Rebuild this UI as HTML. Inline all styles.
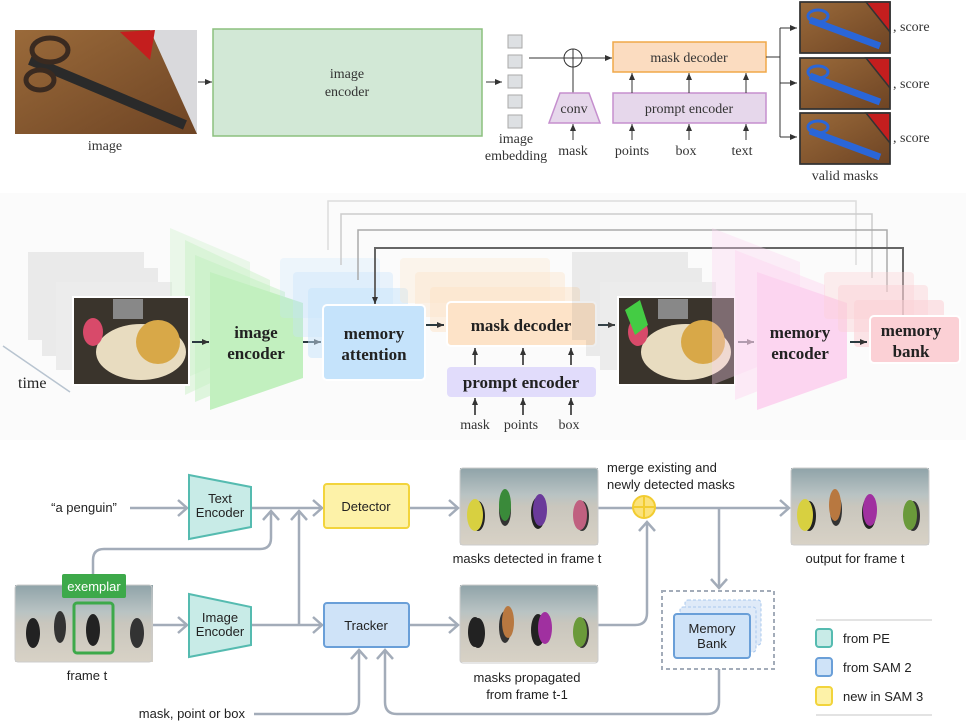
<!DOCTYPE html>
<html><head><meta charset="utf-8"><style>
html,body{margin:0;padding:0;background:#fff;}
svg{display:block}
.s{font-family:"Liberation Serif",serif;font-size:14px;fill:#333}
.b{font-family:"Liberation Serif",serif;font-size:17px;font-weight:bold;fill:#222}
.n{font-family:"Liberation Sans",sans-serif;font-size:13px;fill:#222}
</style></head><body>
<svg width="966" height="726" viewBox="0 0 966 726" xmlns="http://www.w3.org/2000/svg">
<defs>
<marker id="a" markerWidth="8" markerHeight="8" refX="7" refY="4" orient="auto" markerUnits="userSpaceOnUse"><path d="M0,1 L7,4 L0,7 z" fill="#333"/></marker>
<marker id="c" markerWidth="14" markerHeight="20" refX="11" refY="10" orient="auto" markerUnits="userSpaceOnUse"><path d="M2,2 L11,10 L2,18" fill="none" stroke="#a3acb9" stroke-width="2.5"/></marker>
<linearGradient id="wood" x1="0" y1="0" x2="1" y2="1"><stop offset="0" stop-color="#9a6a3a"/><stop offset="1" stop-color="#6e4424"/></linearGradient>
<linearGradient id="beach" x1="0" y1="0" x2="0" y2="1"><stop offset="0" stop-color="#8fa3a8"/><stop offset="0.35" stop-color="#b9c3c3"/><stop offset="0.5" stop-color="#c9c6bd"/><stop offset="1" stop-color="#d8d2c6"/></linearGradient>
<g id="sc"><rect width="90" height="51" fill="url(#wood)"/><path d="M66,0 L90,0 L90,30 Z" fill="#c41e1e"/><path d="M10,18 L80,44" stroke="#2a66d8" stroke-width="7"/><ellipse cx="18" cy="14" rx="10" ry="6" fill="none" stroke="#2a66d8" stroke-width="3"/></g>
<g id="pg"><rect width="138" height="77" fill="url(#beach)"/>
<ellipse cx="18" cy="48" rx="7" ry="15" fill="#222"/><ellipse cx="45" cy="42" rx="6" ry="16" fill="#333"/><ellipse cx="78" cy="45" rx="7" ry="16" fill="#222"/><ellipse cx="122" cy="48" rx="7" ry="15" fill="#333"/></g>
<g id="ro"><rect width="116" height="88" fill="#3a342c"/><ellipse cx="68" cy="55" rx="45" ry="28" fill="#e8dcc0"/><ellipse cx="85" cy="45" rx="22" ry="22" fill="#d8a848"/><ellipse cx="20" cy="35" rx="10" ry="14" fill="#d84a6a"/><rect x="40" y="2" width="30" height="20" fill="#888"/></g>
</defs>

<!-- PANEL 1 -->
<rect x="15" y="30" width="182" height="104" fill="url(#wood)"/>
<path d="M150,30 L197,30 L197,134 Z" fill="#d9d9dc"/><path d="M120,32 L155,30 L150,60 Z" fill="#c41e1e"/>
<path d="M30,60 L185,125" stroke="#2a2a2a" stroke-width="10"/><ellipse cx="50" cy="50" rx="18" ry="12" fill="none" stroke="#3a2a20" stroke-width="5"/><ellipse cx="40" cy="80" rx="14" ry="10" fill="none" stroke="#3a2a20" stroke-width="5"/>
<text class="s" x="105" y="150" text-anchor="middle">image</text>
<line x1="198" y1="82" x2="212" y2="82" stroke="#333" marker-end="url(#a)"/>
<rect x="213" y="29" width="269" height="107" fill="#d2e8d6" stroke="#8cc07e" stroke-width="1.5"/>
<text class="s" x="347" y="78" text-anchor="middle" fill="#555">image</text>
<text class="s" x="347" y="96" text-anchor="middle" fill="#555">encoder</text>
<line x1="486" y1="82" x2="502" y2="82" stroke="#333" marker-end="url(#a)"/>
<g fill="#dde0e3" stroke="#aaa"><rect x="508" y="35" width="14" height="13"/><rect x="508" y="55" width="14" height="13"/><rect x="508" y="75" width="14" height="13"/><rect x="508" y="95" width="14" height="13"/><rect x="508" y="115" width="14" height="13"/></g>
<text class="s" x="516" y="143" text-anchor="middle">image</text>
<text class="s" x="516" y="160" text-anchor="middle">embedding</text>
<line x1="529" y1="58" x2="612" y2="58" stroke="#333" marker-end="url(#a)"/>
<circle cx="573" cy="58" r="9" fill="#fff" stroke="#333"/><line x1="573" y1="49" x2="573" y2="67" stroke="#333"/><line x1="564" y1="58" x2="582" y2="58" stroke="#333"/>
<line x1="573" y1="93" x2="573" y2="67" stroke="#333"/>
<path d="M560,93 L589,93 L600,123 L549,123 Z" fill="#e6d7eb" stroke="#c58fce" stroke-width="1.5"/>
<text class="s" x="574" y="113" text-anchor="middle">conv</text>
<rect x="613" y="42" width="153" height="30" fill="#fbdcc0" stroke="#f0a848" stroke-width="1.5"/>
<text class="s" x="689" y="62" text-anchor="middle">mask decoder</text>
<rect x="613" y="93" width="153" height="30" fill="#e6d7eb" stroke="#c58fce" stroke-width="1.5"/>
<text class="s" x="689" y="113" text-anchor="middle">prompt encoder</text>
<g stroke="#333" marker-end="url(#a)"><line x1="573" y1="140" x2="573" y2="124"/><line x1="632" y1="140" x2="632" y2="124"/><line x1="689" y1="140" x2="689" y2="124"/><line x1="746" y1="140" x2="746" y2="124"/>
<line x1="632" y1="93" x2="632" y2="73"/><line x1="689" y1="93" x2="689" y2="73"/><line x1="746" y1="93" x2="746" y2="73"/></g>
<text class="s" x="573" y="155" text-anchor="middle">mask</text><text class="s" x="632" y="155" text-anchor="middle">points</text><text class="s" x="686" y="155" text-anchor="middle">box</text><text class="s" x="742" y="155" text-anchor="middle">text</text>
<path d="M766,57 L780,57 M780,28 L780,137" stroke="#333" fill="none"/>
<g stroke="#333" marker-end="url(#a)"><line x1="780" y1="28" x2="797" y2="28"/><line x1="780" y1="83" x2="797" y2="83"/><line x1="780" y1="137" x2="797" y2="137"/></g>
<g stroke="#333" stroke-width="1.5"><use href="#sc" x="800" y="2"/><rect x="800" y="2" width="90" height="51" fill="none"/><use href="#sc" x="800" y="58"/><rect x="800" y="58" width="90" height="51" fill="none"/><use href="#sc" x="800" y="113"/><rect x="800" y="113" width="90" height="51" fill="none"/></g>
<text class="s" x="893" y="31">, score</text><text class="s" x="893" y="88">, score</text><text class="s" x="893" y="142">, score</text>
<text class="s" x="845" y="180" text-anchor="middle">valid masks</text>

<!-- PANEL 2 -->
<rect x="0" y="193" width="966" height="247" fill="#fbfbfb"/>
<g opacity="0.12"><rect x="28" y="252" width="116" height="88" fill="#777"/><rect x="42" y="268" width="116" height="88" fill="#777"/><rect x="56" y="282" width="116" height="88" fill="#888"/></g>
<path d="M170,228 L250,262 L250,350 L170,385 Z" fill="#c2f0bf" opacity="0.3"/>
<path d="M185,240 L270,280 L270,355 L185,395 Z" fill="#c2f0bf" opacity="0.4"/>
<path d="M195,255 L285,292 L285,365 L195,402 Z" fill="#c2f0bf" opacity="0.5"/>
<use href="#ro" x="73" y="297"/><rect x="73" y="297" width="116" height="88" fill="none" stroke="#fff" stroke-width="2"/>
<line x1="3" y1="346" x2="70" y2="392" stroke="#b8c4d0" stroke-width="1.5"/>
<text class="b" x="18" y="388" style="font-weight:normal;font-size:16px">time</text>
<line x1="192" y1="342" x2="209" y2="342" stroke="#2a3a40" stroke-width="2" marker-end="url(#a)"/>
<path d="M210,272 L303,303 L303,378 L210,410 Z" fill="#c2f0bf"/>
<text class="b" x="256" y="338" text-anchor="middle">image</text><text class="b" x="256" y="359" text-anchor="middle">encoder</text>
<line x1="303" y1="342" x2="321" y2="342" stroke="#2a3a40" stroke-width="2" marker-end="url(#a)"/>
<rect x="280" y="258" width="100" height="60" rx="4" fill="#c5e3fb" opacity="0.25"/><rect x="293" y="272" width="100" height="65" rx="4" fill="#c5e3fb" opacity="0.35"/><rect x="308" y="288" width="100" height="70" rx="4" fill="#c5e3fb" opacity="0.5"/>
<rect x="400" y="258" width="150" height="45" rx="4" fill="#fde3c8" opacity="0.3"/><rect x="415" y="272" width="150" height="45" rx="4" fill="#fde3c8" opacity="0.4"/><rect x="430" y="287" width="150" height="45" rx="4" fill="#fde3c8" opacity="0.5"/>
<path d="M328,250 L328,201 L856,201 L856,265" fill="none" stroke="#ddd" stroke-width="1.5"/>
<path d="M341,265 L341,214 L872,214 L872,278" fill="none" stroke="#ccc" stroke-width="1.5"/>
<path d="M358,280 L358,230 L887,230 L887,292" fill="none" stroke="#aaa" stroke-width="1.5"/>
<rect x="323" y="305" width="102" height="75" rx="4" fill="#c5e3fb" stroke="#fff" stroke-width="2"/>
<text class="b" x="374" y="339" text-anchor="middle">memory</text><text class="b" x="374" y="360" text-anchor="middle">attention</text>
<path d="M903,325 L903,248 L375,248 L375,304" fill="none" stroke="#666" stroke-width="2" marker-end="url(#a)"/>
<line x1="426" y1="325" x2="444" y2="325" stroke="#2a3a40" stroke-width="2" marker-end="url(#a)"/>
<rect x="447" y="302" width="149" height="44" rx="4" fill="#fde3c8" stroke="#fff" stroke-width="2"/>
<text class="b" x="521" y="331" text-anchor="middle">mask decoder</text>
<rect x="447" y="367" width="149" height="30" rx="4" fill="#e1dcfb"/>
<text class="b" x="521" y="388" text-anchor="middle">prompt encoder</text>
<g stroke="#222" stroke-width="1.5" marker-end="url(#a)"><line x1="475" y1="365" x2="475" y2="348"/><line x1="523" y1="365" x2="523" y2="348"/><line x1="571" y1="365" x2="571" y2="348"/><line x1="475" y1="415" x2="475" y2="398"/><line x1="523" y1="415" x2="523" y2="398"/><line x1="571" y1="415" x2="571" y2="398"/></g>
<text class="s" x="475" y="429" text-anchor="middle">mask</text><text class="s" x="521" y="429" text-anchor="middle">points</text><text class="s" x="569" y="429" text-anchor="middle">box</text>
<line x1="598" y1="325" x2="615" y2="325" stroke="#2a3a40" stroke-width="2" marker-end="url(#a)"/>
<g opacity="0.12"><rect x="572" y="252" width="116" height="88" fill="#777"/><rect x="586" y="268" width="116" height="88" fill="#777"/><rect x="600" y="282" width="116" height="88" fill="#888"/></g>
<use href="#ro" x="618" y="297"/><path d="M625,310 L640,300 L648,325 L635,335 Z" fill="#44cc44"/><rect x="618" y="297" width="118" height="88" fill="none" stroke="#fff" stroke-width="2"/>
<line x1="738" y1="342" x2="754" y2="342" stroke="#2a3a40" stroke-width="2" marker-end="url(#a)"/>
<path d="M712,228 L800,262 L800,350 L712,385 Z" fill="#fcd5f0" opacity="0.35"/><path d="M735,250 L825,285 L825,365 L735,400 Z" fill="#fcd5f0" opacity="0.45"/>
<path d="M757,272 L847,303 L847,378 L757,410 Z" fill="#fcd5f0"/>
<text class="b" x="800" y="338" text-anchor="middle">memory</text><text class="b" x="800" y="359" text-anchor="middle">encoder</text>
<rect x="824" y="272" width="90" height="47" rx="4" fill="#fbd0d5" opacity="0.35"/><rect x="838" y="285" width="90" height="47" rx="4" fill="#fbd0d5" opacity="0.45"/><rect x="854" y="300" width="90" height="47" rx="4" fill="#fbd0d5" opacity="0.55"/>
<line x1="850" y1="342" x2="867" y2="342" stroke="#2a3a40" stroke-width="2" marker-end="url(#a)"/>
<rect x="870" y="316" width="90" height="47" rx="4" fill="#fbd0d5" stroke="#fff" stroke-width="2"/>
<text class="b" x="911" y="336" text-anchor="middle">memory</text><text class="b" x="911" y="357" text-anchor="middle">bank</text>

<!-- PANEL 3 -->
<g fill="none" stroke="#a3acb9" stroke-width="2.5">
<line x1="130" y1="508" x2="187" y2="508" marker-end="url(#c)"/>
<line x1="251" y1="508" x2="322" y2="508" marker-end="url(#c)"/>
<path d="M93,576 L93,560 Q93,549 104,549 L260,549 Q271,549 271,538 L271,511" marker-end="url(#c)"/>
<path d="M299,625 L299,511" marker-end="url(#c)"/>
<line x1="409" y1="508" x2="458" y2="508" marker-end="url(#c)"/>
<line x1="598" y1="508" x2="789" y2="508" marker-end="url(#c)"/>
<path d="M719,508 L719,588" marker-end="url(#c)"/>
<line x1="152" y1="625" x2="187" y2="625" marker-end="url(#c)"/>
<line x1="251" y1="625" x2="322" y2="625" marker-end="url(#c)"/>
<line x1="409" y1="625" x2="458" y2="625" marker-end="url(#c)"/>
<path d="M598,625 L635,625 Q647,625 647,613 L647,522" marker-end="url(#c)"/>
<path d="M254,714 L347,714 Q359,714 359,702 L359,650" marker-end="url(#c)"/>
<path d="M719,669 L719,702 Q719,714 707,714 L397,714 Q385,714 385,702 L385,650" marker-end="url(#c)"/>
</g>
<text class="n" x="84" y="512" text-anchor="middle">“a penguin”</text>
<text class="n" x="245" y="718" text-anchor="end">mask, point or box</text>
<path d="M189,475 L251,487 L251,527 L189,539 Z" fill="#c8ebe7" stroke="#55bbb0" stroke-width="2"/>
<text class="n" x="220" y="503" text-anchor="middle">Text</text><text class="n" x="220" y="517" text-anchor="middle">Encoder</text>
<rect x="324" y="484" width="85" height="44" rx="3" fill="#fdf2a8" stroke="#f2d43c" stroke-width="2"/>
<text class="n" x="366" y="511" text-anchor="middle">Detector</text>
<use href="#pg" x="460" y="468"/><rect x="460" y="468" width="138" height="77" rx="3" fill="none" stroke="#ccc"/>
<ellipse cx="475" cy="515" rx="8" ry="16" fill="#d8d040"/><ellipse cx="505" cy="505" rx="6" ry="16" fill="#3a8a3a"/><ellipse cx="540" cy="510" rx="7" ry="16" fill="#6a3a9a"/><ellipse cx="580" cy="515" rx="7" ry="15" fill="#c06080"/>
<text class="n" x="527" y="563" text-anchor="middle">masks detected in frame t</text>
<circle cx="644" cy="507" r="11" fill="#fbe27a" stroke="#f2cc30" stroke-width="2"/><line x1="644" y1="496" x2="644" y2="518" stroke="#f2cc30" stroke-width="2"/><line x1="633" y1="507" x2="655" y2="507" stroke="#f2cc30" stroke-width="2"/>
<text class="n" x="607" y="472">merge existing and</text><text class="n" x="607" y="489">newly detected masks</text>
<use href="#pg" x="791" y="468"/><rect x="791" y="468" width="138" height="77" rx="3" fill="none" stroke="#ccc"/>
<ellipse cx="805" cy="515" rx="8" ry="16" fill="#d8d040"/><ellipse cx="835" cy="505" rx="6" ry="16" fill="#b87840"/><ellipse cx="870" cy="510" rx="7" ry="16" fill="#a030a0"/><ellipse cx="910" cy="515" rx="7" ry="15" fill="#6a9a3a"/>
<text class="n" x="855" y="563" text-anchor="middle">output for frame t</text>
<use href="#pg" x="15" y="585"/><rect x="15" y="585" width="137" height="77" rx="3" fill="none" stroke="#ccc"/>
<rect x="74" y="603" width="39" height="50" rx="3" fill="none" stroke="#3da94a" stroke-width="3"/>
<rect x="62" y="574" width="64" height="24" rx="2" fill="#3da94a"/><text class="n" x="94" y="591" text-anchor="middle" style="fill:#fff">exemplar</text>
<text class="n" x="87" y="680" text-anchor="middle">frame t</text>
<path d="M189,594 L251,607 L251,645 L189,657 Z" fill="#c8ebe7" stroke="#55bbb0" stroke-width="2"/>
<text class="n" x="220" y="622" text-anchor="middle">Image</text><text class="n" x="220" y="636" text-anchor="middle">Encoder</text>
<rect x="324" y="603" width="85" height="44" rx="3" fill="#cfe3f8" stroke="#6a9fd8" stroke-width="2"/>
<text class="n" x="366" y="630" text-anchor="middle">Tracker</text>
<use href="#pg" x="460" y="585"/><rect x="460" y="585" width="138" height="78" rx="3" fill="none" stroke="#ccc"/>
<ellipse cx="475" cy="632" rx="7" ry="15" fill="#222"/><ellipse cx="508" cy="622" rx="6" ry="16" fill="#b87840"/><ellipse cx="545" cy="628" rx="7" ry="16" fill="#a030a0"/><ellipse cx="580" cy="632" rx="7" ry="15" fill="#6a9a3a"/>
<text class="n" x="527" y="682" text-anchor="middle">masks propagated</text><text class="n" x="527" y="699" text-anchor="middle">from frame t-1</text>
<rect x="662" y="591" width="112" height="78" fill="none" stroke="#a3acb9" stroke-width="2" stroke-dasharray="4,3"/>
<rect x="685" y="600" width="76" height="45" rx="3" fill="#dfeaf8" stroke="#a9c8ee" stroke-dasharray="3,2"/>
<rect x="680" y="607" width="76" height="45" rx="3" fill="#dfeaf8" stroke="#a9c8ee" stroke-dasharray="3,2"/>
<rect x="674" y="614" width="76" height="44" rx="3" fill="#cfe3f8" stroke="#6a9fd8" stroke-width="2"/>
<text class="n" x="712" y="633" text-anchor="middle">Memory</text><text class="n" x="712" y="648" text-anchor="middle">Bank</text>
<line x1="816" y1="620" x2="932" y2="620" stroke="#e3e3e3" stroke-width="2"/><line x1="816" y1="715" x2="932" y2="715" stroke="#e3e3e3" stroke-width="2"/>
<rect x="816" y="629" width="16" height="18" rx="3" fill="#c8ebe7" stroke="#55bbb0" stroke-width="2"/>
<rect x="816" y="658" width="16" height="18" rx="3" fill="#cfe3f8" stroke="#6a9fd8" stroke-width="2"/>
<rect x="816" y="687" width="16" height="18" rx="3" fill="#fdf2a8" stroke="#f2d43c" stroke-width="2"/>
<text class="n" x="843" y="643">from PE</text><text class="n" x="843" y="672">from SAM 2</text><text class="n" x="843" y="701">new in SAM 3</text>
</svg>
</body></html>
